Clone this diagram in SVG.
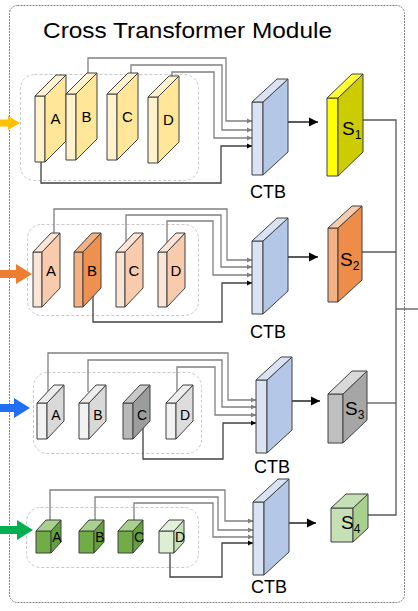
<svg xmlns="http://www.w3.org/2000/svg" width="418" height="611" viewBox="0 0 418 611">
<style>
.frame{fill:none;stroke:#7f7f7f;stroke-width:1;stroke-dasharray:2,1}
.inner{fill:none;stroke:#c8c8c8;stroke-width:1;stroke-dasharray:3,2}
.b{stroke:#404040;stroke-width:1;stroke-linejoin:round}
.lbl{font-family:"Liberation Sans",Arial,sans-serif;font-size:15px;fill:#000;text-anchor:middle}
.lbl4{font-family:"Liberation Sans",Arial,sans-serif;font-size:14px;fill:#000;text-anchor:middle}
.ctb{font-family:"Liberation Sans",Arial,sans-serif;font-size:18px;fill:#000;text-anchor:middle}
.s{font-family:"Liberation Sans",Arial,sans-serif;font-size:19px;fill:#000}
.g{fill:none;stroke:#808080;stroke-width:1.3}
.k{fill:none;stroke:#404040;stroke-width:1.3}
.o{fill:none;stroke:#000;stroke-width:1.3}
.r{fill:none;stroke:#595959;stroke-width:1.3}
</style>
<defs>
<marker id="ag" markerUnits="userSpaceOnUse" markerWidth="6" markerHeight="6" refX="5" refY="3" orient="auto"><path d="M0,0.5 L5,3 L0,5.5 Z" fill="#808080"/></marker>
<marker id="ak" markerUnits="userSpaceOnUse" markerWidth="6" markerHeight="6" refX="5" refY="3" orient="auto"><path d="M0,0.5 L5,3 L0,5.5 Z" fill="#000"/></marker>
<marker id="ao" markerUnits="userSpaceOnUse" markerWidth="10" markerHeight="10" refX="9" refY="5" orient="auto"><path d="M0,0.5 L9,5 L0,9.5 Z" fill="#000"/></marker>
</defs>
<rect class="frame" x="9.5" y="5.5" width="395" height="597" rx="8"/>
<text x="43" y="38" font-family="'Liberation Sans',Arial,sans-serif" font-size="22" textLength="289" lengthAdjust="spacingAndGlyphs">Cross Transformer Module</text>
<rect class="inner" x="20.5" y="74.5" width="178" height="106" rx="14"/>
<rect class="inner" x="27.5" y="224.5" width="171" height="91" rx="14"/>
<rect class="inner" x="33.5" y="372.5" width="168" height="81" rx="14"/>
<rect class="inner" x="26.5" y="507.5" width="172" height="60" rx="14"/>
<g id="connectors">
<path class="g" d="M88,80 V58 H226 V121 H252" marker-end="url(#ag)"/>
<path class="g" d="M131,80 V65 H222 V130 H252" marker-end="url(#ag)"/>
<path class="g" d="M172,82 V72 H214 V138 H252" marker-end="url(#ag)"/>
<path class="k" d="M41,150 V183 H221 V146 H252" marker-end="url(#ak)"/>
<path class="g" d="M54,240 V209 H227 V260 H252" marker-end="url(#ag)"/>
<path class="g" d="M126,245 V215 H221 V267 H252" marker-end="url(#ag)"/>
<path class="g" d="M167,245 V221 H213 V275 H252" marker-end="url(#ag)"/>
<path class="k" d="M93,290 V322 H222 V283 H252" marker-end="url(#ak)"/>
<path class="g" d="M48,392 V353 H228 V400 H256" marker-end="url(#ag)"/>
<path class="g" d="M88,392 V360 H222 V407 H256" marker-end="url(#ag)"/>
<path class="g" d="M177,392 V367 H215 V415 H256" marker-end="url(#ag)"/>
<path class="k" d="M143,425 V459 H223 V423 H256" marker-end="url(#ak)"/>
<path class="g" d="M50,526 V490 H225 V521 H253" marker-end="url(#ag)"/>
<path class="g" d="M95,526 V497 H218 V530 H253" marker-end="url(#ag)"/>
<path class="g" d="M134,526 V503 H213 V537 H253" marker-end="url(#ag)"/>
<path class="k" d="M170,545 V577 H222 V543 H253" marker-end="url(#ak)"/>
<path class="o" d="M288,122 H318" marker-end="url(#ao)"/>
<path class="o" d="M288,257 H318" marker-end="url(#ao)"/>
<path class="o" d="M292,401 H320" marker-end="url(#ao)"/>
<path class="o" d="M289,523 H316" marker-end="url(#ao)"/>
<path class="r" d="M363,120 H396 V515 H368"/>
<path class="r" d="M362,252 H396"/>
<path class="r" d="M367,403 H396"/>
<path class="r" d="M396,309 H418"/>
<polygon points="0,119.5 8,119.5 8,116 20,123 8,130 8,126.5 0,126.5" fill="#FFC000"/>
<polygon points="0,270 16,270 16,264 32,274 16,284 16,278 0,278" fill="#ED7D31"/>
<polygon points="0,404 14,404 14,398 30,408 14,418 14,412 0,412" fill="#1F6FF0"/>
<polygon points="0,526 17,526 17,520 33,530 17,540 17,534 0,534" fill="#00B050"/>
</g>
<g id="y-A"><rect class="b" x="35" y="96" width="10" height="66" fill="#FFF2CC"/><polygon class="b" points="45,96 66,75 66,141 45,162" fill="#FFE699"/><polygon class="b" points="35,96 56,75 66,75 45,96" fill="#FFF2CC"/><text class="lbl" x="55.5" y="124">A</text></g>
<g id="y-B"><rect class="b" x="66" y="94" width="10" height="66" fill="#FFF2CC"/><polygon class="b" points="76,94 97,73 97,139 76,160" fill="#FFE699"/><polygon class="b" points="66,94 87,73 97,73 76,94" fill="#FFF2CC"/><text class="lbl" x="86.5" y="122">B</text></g>
<g id="y-C"><rect class="b" x="107" y="94" width="10" height="66" fill="#FFF2CC"/><polygon class="b" points="117,94 138,73 138,139 117,160" fill="#FFE699"/><polygon class="b" points="107,94 128,73 138,73 117,94" fill="#FFF2CC"/><text class="lbl" x="127.5" y="122">C</text></g>
<g id="y-D"><rect class="b" x="148" y="97" width="10" height="66" fill="#FFF2CC"/><polygon class="b" points="158,97 179,76 179,142 158,163" fill="#FFE699"/><polygon class="b" points="148,97 169,76 179,76 158,97" fill="#FFF2CC"/><text class="lbl" x="168.5" y="125">D</text></g>
<g id="o-A"><rect class="b" x="33" y="252" width="9" height="55" fill="#FBE5D6"/><polygon class="b" points="42,252 60,233 60,288 42,307" fill="#F8CBAD"/><polygon class="b" points="33,252 51,233 60,233 42,252" fill="#FBE5D6"/><text class="lbl" x="51" y="276">A</text></g>
<g id="o-B"><rect class="b" x="74" y="252" width="9" height="55" fill="#F4B183"/><polygon class="b" points="83,252 101,233 101,288 83,307" fill="#EE9050"/><polygon class="b" points="74,252 92,233 101,233 83,252" fill="#F4B183"/><text class="lbl" x="92" y="276">B</text></g>
<g id="o-C"><rect class="b" x="116" y="252" width="9" height="55" fill="#FBE5D6"/><polygon class="b" points="125,252 143,233 143,288 125,307" fill="#F8CBAD"/><polygon class="b" points="116,252 134,233 143,233 125,252" fill="#FBE5D6"/><text class="lbl" x="134" y="276">C</text></g>
<g id="o-D"><rect class="b" x="158" y="252" width="9" height="55" fill="#FBE5D6"/><polygon class="b" points="167,252 185,233 185,288 167,307" fill="#F8CBAD"/><polygon class="b" points="158,252 176,233 185,233 167,252" fill="#FBE5D6"/><text class="lbl" x="176" y="276">D</text></g>
<g id="g-A"><rect class="b" x="37" y="403" width="10" height="36" fill="#F2F2F2"/><polygon class="b" points="47,403 64,385 64,421 47,439" fill="#D9D9D9"/><polygon class="b" points="37,403 54,385 64,385 47,403" fill="#EDEDED"/><text class="lbl4" x="56" y="420">A</text></g>
<g id="g-B"><rect class="b" x="79" y="403" width="10" height="36" fill="#F2F2F2"/><polygon class="b" points="89,403 106,385 106,421 89,439" fill="#D9D9D9"/><polygon class="b" points="79,403 96,385 106,385 89,403" fill="#EDEDED"/><text class="lbl4" x="98" y="420">B</text></g>
<g id="g-C"><rect class="b" x="123" y="403" width="10" height="36" fill="#B8B8B8"/><polygon class="b" points="133,403 150,385 150,421 133,439" fill="#9C9C9C"/><polygon class="b" points="123,403 140,385 150,385 133,403" fill="#C9C9C9"/><text class="lbl4" x="142" y="420">C</text></g>
<g id="g-D"><rect class="b" x="166" y="403" width="10" height="36" fill="#F2F2F2"/><polygon class="b" points="176,403 193,385 193,421 176,439" fill="#DDDDDD"/><polygon class="b" points="166,403 183,385 193,385 176,403" fill="#EDEDED"/><text class="lbl4" x="185" y="420">D</text></g>
<g id="n-A"><rect class="b" x="36" y="531" width="15" height="22" fill="#70AD47"/><polygon class="b" points="51,531 61,520 61,542 51,553" fill="#62A03C"/><polygon class="b" points="36,531 46,520 61,520 51,531" fill="#A9D18E"/><text class="lbl4" x="57" y="542">A</text></g>
<g id="n-B"><rect class="b" x="79" y="531" width="15" height="22" fill="#70AD47"/><polygon class="b" points="94,531 104,520 104,542 94,553" fill="#62A03C"/><polygon class="b" points="79,531 89,520 104,520 94,531" fill="#A9D18E"/><text class="lbl4" x="100" y="542">B</text></g>
<g id="n-C"><rect class="b" x="118" y="531" width="15" height="22" fill="#70AD47"/><polygon class="b" points="133,531 143,520 143,542 133,553" fill="#62A03C"/><polygon class="b" points="118,531 128,520 143,520 133,531" fill="#A9D18E"/><text class="lbl4" x="139" y="542">C</text></g>
<g id="n-D"><rect class="b" x="159" y="531" width="15" height="22" fill="#DDEED3"/><polygon class="b" points="174,531 184,520 184,542 174,553" fill="#C5E0B4"/><polygon class="b" points="159,531 169,520 184,520 174,531" fill="#E2F0D9"/><text class="lbl4" x="180" y="542">D</text></g>
<g id="ctb1"><rect class="b" x="252" y="102" width="11" height="73" fill="#DAE3F3"/><polygon class="b" points="263,102 288,79 288,152 263,175" fill="#B4C7E7"/><polygon class="b" points="252,102 277,79 288,79 263,102" fill="#DAE3F3"/><text class="ctb" x="268" y="198">CTB</text></g>
<g id="ctb2"><rect class="b" x="252" y="241" width="11" height="73" fill="#DAE3F3"/><polygon class="b" points="263,241 288,218 288,291 263,314" fill="#B4C7E7"/><polygon class="b" points="252,241 277,218 288,218 263,241" fill="#DAE3F3"/><text class="ctb" x="268" y="338">CTB</text></g>
<g id="ctb3"><rect class="b" x="256" y="380" width="11" height="73" fill="#DAE3F3"/><polygon class="b" points="267,380 292,357 292,430 267,453" fill="#B4C7E7"/><polygon class="b" points="256,380 281,357 292,357 267,380" fill="#DAE3F3"/><text class="ctb" x="272" y="473">CTB</text></g>
<g id="ctb4"><rect class="b" x="253" y="502" width="11" height="73" fill="#DAE3F3"/><polygon class="b" points="264,502 289,479 289,552 264,575" fill="#B4C7E7"/><polygon class="b" points="253,502 278,479 289,479 264,502" fill="#DAE3F3"/><text class="ctb" x="269" y="593">CTB</text></g>
<g id="s1"><rect class="b" x="327" y="98" width="11" height="78" fill="#FFFF00"/><polygon class="b" points="338,98 363,74 363,152 338,176" fill="#CCCC00"/><polygon class="b" points="327,98 352,74 363,74 338,98" fill="#FFFF33"/><text class="s" x="342" y="135">S<tspan font-size="12" dy="4">1</tspan></text></g>
<g id="s2"><rect class="b" x="328" y="228" width="10" height="74" fill="#F4B183"/><polygon class="b" points="338,228 362,206 362,280 338,302" fill="#EE8C49"/><polygon class="b" points="328,228 352,206 362,206 338,228" fill="#F8CBAD"/><text class="s" x="340" y="266">S<tspan font-size="12" dy="4">2</tspan></text></g>
<g id="s3"><rect class="b" x="328" y="394" width="15" height="49" fill="#BFBFBF"/><polygon class="b" points="343,394 367,371 367,420 343,443" fill="#A6A6A6"/><polygon class="b" points="328,394 352,371 367,371 343,394" fill="#D9D9D9"/><text class="s" x="345" y="415">S<tspan font-size="12" dy="4">3</tspan></text></g>
<g id="s4"><rect class="b" x="331" y="508" width="22" height="34" fill="#C5E0B4"/><polygon class="b" points="353,508 368,494 368,528 353,542" fill="#A9D18E"/><polygon class="b" points="331,508 346,494 368,494 353,508" fill="#C5E0B4"/><text class="s" x="341" y="529">S<tspan font-size="12" dy="4">4</tspan></text></g>
</svg>
